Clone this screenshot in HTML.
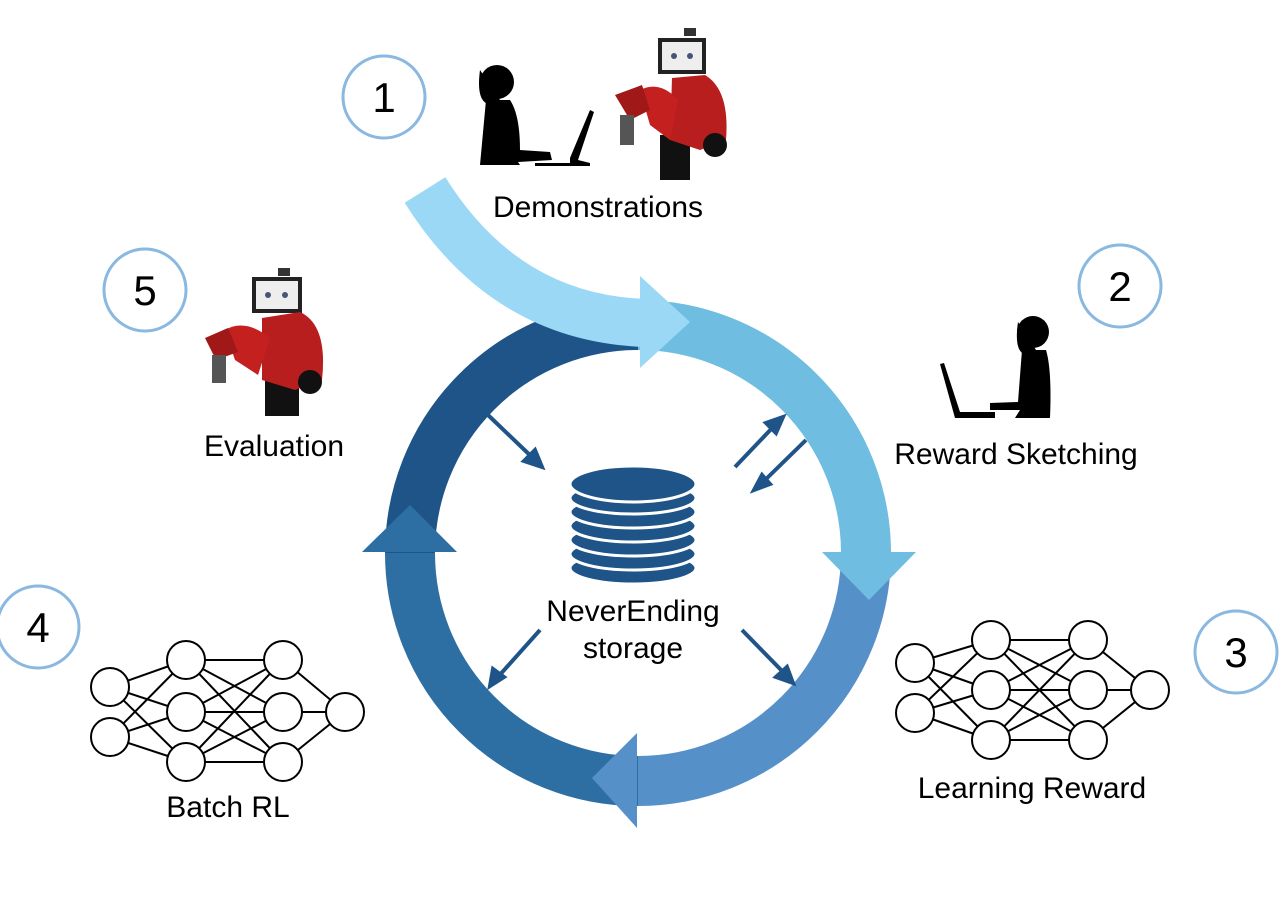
<!DOCTYPE html>
<html><head><meta charset="utf-8"><style>
html,body{margin:0;padding:0;background:#fff;}
svg{display:block;font-family:"Liberation Sans",sans-serif;}
</style></head><body>
<svg width="1280" height="901" viewBox="0 0 1280 901">
<!-- ring segments -->
<g fill="none" stroke-width="50">
<path d="M410,553 A228,228 0 0 1 638,325" stroke="#1f5488"/>
<path d="M638,325 A228,228 0 0 1 866,553" stroke="#6fbde0"/>
<path d="M866,553 A228,228 0 0 1 638,781" stroke="#5590c8"/>
<path d="M638,781 A228,228 0 0 1 410,553" stroke="#2e6fa3"/>
</g>
<!-- incoming -->
<path d="M425,190 Q505,318 645,323" fill="none" stroke="#9ad8f5" stroke-width="48"/>
<!-- arrowheads -->
<polygon points="640,276 690,322 640,368" fill="#9ad8f5"/>
<polygon points="822,552 916,552 869,600" fill="#6fbde0"/>
<polygon points="637,733 592,778 637,828" fill="#5590c8"/>
<polygon points="362,552 457,552 410,505" fill="#2e6fa3"/>
<!-- small arrows -->
<g stroke="#1f5488" stroke-width="4" fill="#1f5488">
<line x1="488" y1="415" x2="535" y2="460"/><polygon points="542,467 524,461 535,450"/>
<line x1="735" y1="467" x2="776" y2="424"/><polygon points="783,417 766,423 776,433"/>
<line x1="806" y1="440" x2="762" y2="483"/><polygon points="754,490 762,475 770,484"/>
<line x1="540" y1="630" x2="497" y2="678"/><polygon points="490,686 493,669 504,677"/>
<line x1="742" y1="630" x2="786" y2="675"/><polygon points="793,683 776,677 787,667"/>
</g>
<!-- storage -->
<g fill="#1f5488" stroke="#fff" stroke-width="3">
<ellipse cx="633" cy="568" rx="63" ry="16"/>
<ellipse cx="633" cy="554" rx="63" ry="16"/>
<ellipse cx="633" cy="540" rx="63" ry="16"/>
<ellipse cx="633" cy="526" rx="63" ry="16"/>
<ellipse cx="633" cy="512" rx="63" ry="16"/>
<ellipse cx="633" cy="498" rx="63" ry="16"/>
<ellipse cx="633" cy="484" rx="63" ry="18"/>
</g>
<text x="633" y="621" font-size="30" text-anchor="middle">NeverEnding</text>
<text x="633" y="658" font-size="30" text-anchor="middle">storage</text>
<!-- number circles -->
<g fill="#fff" stroke="#8ab8e0" stroke-width="3">
<circle cx="384" cy="97" r="41"/><circle cx="1120" cy="286" r="41"/><circle cx="1236" cy="652" r="41"/><circle cx="38" cy="627" r="41"/><circle cx="145" cy="290" r="41"/>
</g>
<g font-size="42" text-anchor="middle">
<text x="384" y="112">1</text><text x="1120" y="301">2</text><text x="1236" y="667">3</text><text x="38" y="642">4</text><text x="145" y="305">5</text>
</g>
<!-- labels -->
<g font-size="30" text-anchor="middle">
<text x="598" y="217">Demonstrations</text>
<text x="274" y="456">Evaluation</text>
<text x="1016" y="464">Reward Sketching</text>
<text x="1032" y="798">Learning Reward</text>
<text x="228" y="817">Batch RL</text>
</g>
<!-- woman 1 -->
<g fill="#000">
<circle cx="497" cy="82" r="17"/><path d="M480,70 Q476,100 488,104 L500,100 Z"/>
<path d="M486,100 L510,100 Q520,115 520,150 L550,152 L552,160 L518,162 L520,165 L480,165 Z"/>
<path d="M535,163 L570,163 L570,158 L590,110 L594,112 L578,160 L590,163 L590,166 L535,166Z"/>
</g>
<!-- woman 2 -->
<g fill="#000">
<circle cx="1033" cy="332" r="16"/><path d="M1018,322 Q1014,350 1024,354 L1036,350 Z"/>
<path d="M1022,350 L1046,350 Q1052,370 1050,418 L1015,418 L1020,410 L990,410 L990,403 L1018,402 Z"/>
<path d="M940,364 L944,363 L960,412 L995,412 L995,418 L955,418 Z"/>
</g>
<!-- robot 1 -->
<g>
<rect x="684" y="28" width="12" height="8" fill="#333"/>
<rect x="658" y="38" width="48" height="36" fill="#222"/><rect x="662" y="42" width="40" height="28" fill="#eee"/>
<circle cx="674" cy="56" r="3" fill="#457"/><circle cx="690" cy="56" r="3" fill="#457"/>
<rect x="660" y="135" width="30" height="45" fill="#111"/>
<path d="M672,78 L705,75 Q730,90 726,140 L700,150 L670,140 Z" fill="#b81e1e"/>
<path d="M640,90 Q660,80 678,100 L670,140 L650,125 Z" fill="#c42020"/>
<path d="M615,95 L642,85 L650,110 L630,120 Z" fill="#a01818"/>
<rect x="620" y="115" width="14" height="30" fill="#555"/>
<circle cx="715" cy="145" r="12" fill="#111"/>
</g>
<!-- robot 5 -->
<g>
<rect x="278" y="268" width="12" height="8" fill="#333"/>
<rect x="252" y="277" width="50" height="36" fill="#222"/><rect x="256" y="281" width="42" height="28" fill="#eee"/>
<circle cx="268" cy="295" r="3" fill="#457"/><circle cx="285" cy="295" r="3" fill="#457"/>
<rect x="265" y="370" width="34" height="46" fill="#111"/>
<path d="M262,318 L300,312 Q328,325 322,380 L295,390 L262,380 Z" fill="#b81e1e"/>
<path d="M225,330 Q245,318 270,338 L258,375 L235,360 Z" fill="#c42020"/>
<path d="M205,338 L228,328 L238,352 L216,360 Z" fill="#a01818"/>
<rect x="212" y="355" width="14" height="28" fill="#555"/>
<circle cx="310" cy="382" r="12" fill="#111"/>
</g>
<!-- neural nets -->
<g stroke="#000" stroke-width="2" fill="none">
<path d="M110,687 L186,660 M110,687 L186,712 M110,687 L186,762 M110,737 L186,660 M110,737 L186,712 M110,737 L186,762
M186,660 L283,660 M186,660 L283,712 M186,660 L283,762 M186,712 L283,660 M186,712 L283,712 M186,712 L283,762 M186,762 L283,660 M186,762 L283,712 M186,762 L283,762
M283,660 L345,712 M283,712 L345,712 M283,762 L345,712"/>
<path d="M915,663 L991,640 M915,663 L991,690 M915,663 L991,740 M915,713 L991,640 M915,713 L991,690 M915,713 L991,740
M991,640 L1088,640 M991,640 L1088,690 M991,640 L1088,740 M991,690 L1088,640 M991,690 L1088,690 M991,690 L1088,740 M991,740 L1088,640 M991,740 L1088,690 M991,740 L1088,740
M1088,640 L1150,690 M1088,690 L1150,690 M1088,740 L1150,690"/>
</g>
<g stroke="#000" stroke-width="2" fill="#fff">
<circle cx="110" cy="687" r="19"/><circle cx="110" cy="737" r="19"/>
<circle cx="186" cy="660" r="19"/><circle cx="186" cy="712" r="19"/><circle cx="186" cy="762" r="19"/>
<circle cx="283" cy="660" r="19"/><circle cx="283" cy="712" r="19"/><circle cx="283" cy="762" r="19"/>
<circle cx="345" cy="712" r="19"/>
<circle cx="915" cy="663" r="19"/><circle cx="915" cy="713" r="19"/>
<circle cx="991" cy="640" r="19"/><circle cx="991" cy="690" r="19"/><circle cx="991" cy="740" r="19"/>
<circle cx="1088" cy="640" r="19"/><circle cx="1088" cy="690" r="19"/><circle cx="1088" cy="740" r="19"/>
<circle cx="1150" cy="690" r="19"/>
</g>
</svg>
</body></html>
